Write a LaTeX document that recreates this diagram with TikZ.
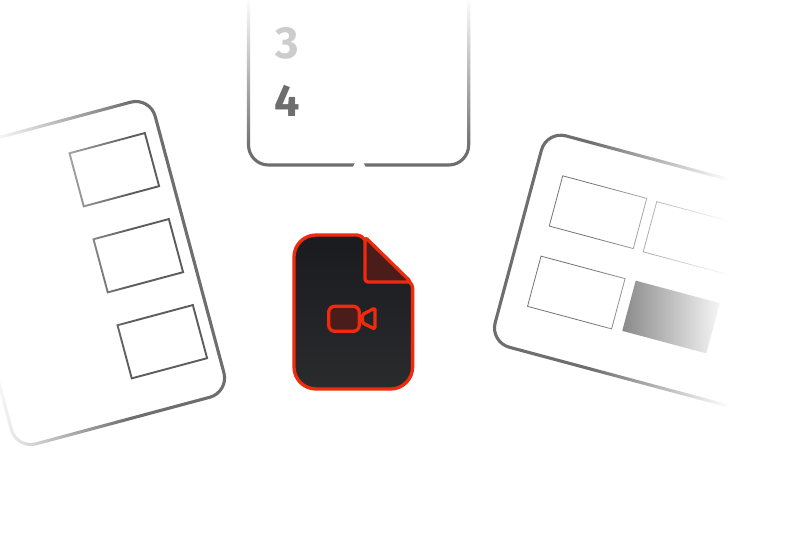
\documentclass[tikz,border=0pt]{standalone}
\usepackage{fontspec}
\setmainfont{Fira Sans}
\usepackage{tikz}
\usetikzlibrary{fadings,positioning}

\definecolor{fileRed}{HTML}{F02A0C}
\definecolor{fileMaroon}{HTML}{4A1D1B}
\definecolor{fileTop}{HTML}{1A1B1F}
\definecolor{fileBottom}{HTML}{2A2B2D}
\tikzfading[name=fadeX, left color=transparent!0, right color=transparent!100]
\tikzfading[name=fadeXback, left color=transparent!100, right color=transparent!0]
\tikzfading[name=fadeY, top color=transparent!0, bottom color=transparent!100]
\tikzset{
    cardbox/.style={draw=black!57,line width=3.1pt,rounded corners=20pt,inner sep=0pt},
    slotbox/.style={draw=black!64,line width=1.9pt,inner sep=0pt,minimum width=78pt,minimum height=55pt,rotate=15},
    thinbox/.style={draw=black!55,line width=0.8pt,inner sep=0pt,minimum width=87pt,minimum height=52pt,rotate=-15},
    digit/.style={inner sep=0pt,font=\fontsize{45}{45}\selectfont\bfseries}
}

\begin{document}
\begin{tikzpicture}[x=1pt,y=-1pt]
        \useasboundingbox[fill=white] (0,0) rectangle (800,547);

        % top card
        \node[cardbox,minimum width=220.2pt,minimum height=200pt] (CardTop) at (358.6,65) {};
        \fill[white,path fading=fadeY] (240,-2) rectangle (480,150);
        \fill[white] (355,163) -- (363.4,163) -- (366,167.5) -- (352.7,167.5) -- cycle;
        \node[digit,text=black!20] (Three) at (287,43.3) {3};
        \node[digit,text=black!57] (Four) at (287,101) {4};

        % left card
        \node[cardbox,minimum width=220pt,minimum height=305.5pt,rotate=15] (CardLeft) at (83.3,273) {};
        \node[slotbox] (SlotA) at (114.3,169.7) {};
        \node[slotbox] (SlotB) at (138.3,255.7) {};
        \node[slotbox] (SlotC) at (162.3,341.7) {};
        \fill[white,path fading=fadeX] (-8,90) rectangle (130,460);
        \fill[white] (-70,90) rectangle (-7.5,460);

        % right card
        \node[cardbox,minimum width=300pt,minimum height=218.8pt,rotate=-15] (CardRight) at (663.2,275.2) {};
        \node[thinbox] (PaneA) at (598,212.2) {};
        \node[thinbox] (PaneB) at (692,238) {};
        \node[thinbox] (PaneC) at (576.3,292.5) {};
        \node[thinbox,draw=none,fill=black!60] (PaneD) at (671,317) {};
        \fill[white,path fading=fadeXback] (590,110) rectangle (728,430);
        \fill[white] (727.5,110) rectangle (800,430);

        % file icon
        \draw[fileRed,line width=3.3pt,top color=fileTop,bottom color=fileBottom,rounded corners=3pt]
            (319,235) -- (360,235) -- (412.6,285) -- (412.6,365)
            [rounded corners=22pt] -- (412.6,389) -- (294,389) -- (294,235) [rounded corners=3pt] -- cycle;
        \draw[fileRed,fill=fileMaroon,line width=3.3pt,line join=round,rounded corners=3pt]
            (365,237) -- (365,282) -- (411,282) -- cycle;
        \node[draw=fileRed,fill=fileMaroon,line width=3.3pt,rounded corners=6pt,inner sep=0pt,
            minimum width=30.6pt,minimum height=25pt] (CamBody) at (344,318.8) {};
        \draw[fileRed,line width=3.3pt,line join=round,rounded corners=1.5pt]
            (362.5,314.5) -- (375,308) -- (375,329) -- (362.5,323) -- cycle;
\end{tikzpicture}
\end{document}
